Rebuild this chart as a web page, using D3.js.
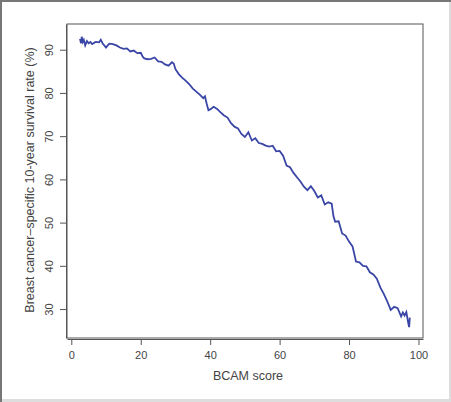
<!DOCTYPE html>
<html><head><meta charset="utf-8">
<script src="https://d3js.org/d3.v7.min.js"></script>
<style>body{margin:0;background:#fff}</style>
</head><body>
<script>
var bcam = [2.5,2.8,3,3.3,3.6,4,4.5,5,5.5,6,7,8,8.5,9,10,10.5,11,12,13,14,15,16,17,18,19,20,20.5,21,22,23,24,25,26,27,28,29,29.5,30,31,32,33,34,35,36,37,38,38.5,39,39.5,40,41,42,43,44,45,46,47,48,49,50,51,52,53,54,55,56,57,58,59,60,61,62,63,64,65,66,67,68,69,70,71,72,73,74,75,75.5,76,77,78,79,80,81,82,83,84,85,86,87,88,89,90,91,92,93,94,95,95.5,96,96.5,97,97.3,97.5];
var survival = [92.5,91.5,93,91.8,92.3,91,92,91.5,91.8,91.3,91.8,91.7,92.3,91.5,90.5,91,91.4,91.3,91,90.5,90.2,90.3,89.6,89.8,89.2,89.3,88.5,88,87.8,87.9,88.2,87.3,87.2,86.6,86.3,87.1,86.8,85.5,84.3,83.5,82.8,82,81,80.3,79.6,78.8,79.2,77.5,76,76.2,76.8,76.3,75.5,74.8,74.3,73,72.2,71.8,70.5,69.8,70.9,69,69.5,68.4,68.2,67.8,67.6,67.8,66.5,66.6,65.5,63.2,62.8,61.5,60.5,59.5,58.3,57.5,58.4,57.3,55.8,56.3,54.2,54.7,54.4,51.5,50.2,50.3,47.5,47,45.6,44.5,41,40.8,40,39.9,38.5,38,37,35,33.5,31.8,29.8,30.5,30.2,28.3,29.2,28.5,29.3,27,25.8,28];
var xTicks = [0,20,40,60,80,100];
var yTicks = [30,40,50,60,70,80,90];

var W = 451, H = 402;
var svg = d3.select("body").append("svg").attr("width", W).attr("height", H);
var font = "Liberation Sans, Arial, sans-serif";

// frame
svg.append("rect").attr("x",0).attr("y",0).attr("width",W).attr("height",H).attr("fill","#ddd");
svg.append("rect").attr("x",2).attr("y",2).attr("width",W-4).attr("height",H-5).attr("fill","#fff");
svg.append("rect").attr("x",0).attr("y",0).attr("width",W).attr("height",2).attr("fill","#777");
svg.append("rect").attr("x",0).attr("y",0).attr("width",2).attr("height",H).attr("fill","#777");

var x = d3.scaleLinear().domain([-1.24, 101.3]).range([67, 423]);
var y = d3.scaleLinear().domain([23.3, 95.95]).range([338, 24]);

svg.append("rect").attr("x",67).attr("y",24).attr("width",356).attr("height",314)
  .attr("fill","none").attr("stroke","#555").attr("stroke-width",1);

var xa = svg.append("g").attr("transform","translate(0,339)")
  .call(d3.axisBottom(x).tickValues(xTicks).tickSize(6).tickPadding(6).tickSizeOuter(0));
var ya = svg.append("g").attr("transform","translate(66,0)")
  .call(d3.axisLeft(y).tickValues(yTicks).tickSize(6).tickPadding(6).tickSizeOuter(0));
[xa, ya].forEach(function(a){
  a.select(".domain").attr("stroke","#555");
  a.selectAll("line").attr("stroke","#555");
  a.selectAll("text").attr("fill","#444").style("font-family",font).style("font-size","11px");
});
ya.selectAll("text").attr("transform", function(d){return "rotate(-90," + (-12) + "," + 0 + ")";})
  .attr("x",-12).attr("dy","-0.1em").attr("text-anchor","middle");

svg.append("path").datum(bcam.map(function(d,i){return [d, survival[i]];}))
  .attr("d", d3.line().x(function(d){return x(d[0]);}).y(function(d){return y(d[1]);}))
  .attr("fill","none").attr("stroke","#3a46a6").attr("stroke-width",1.8);

svg.append("text").attr("x",248).attr("y",380).attr("text-anchor","middle")
  .style("font-family",font).style("font-size","12.5px").attr("fill","#444").text("BCAM score");
svg.append("text").attr("transform","translate(34,180) rotate(-90)").attr("text-anchor","middle")
  .style("font-family",font).style("font-size","12.5px").attr("fill","#444")
  .text("Breast cancer\u2013specific 10-year survival rate (%)");
</script>
</body></html>
